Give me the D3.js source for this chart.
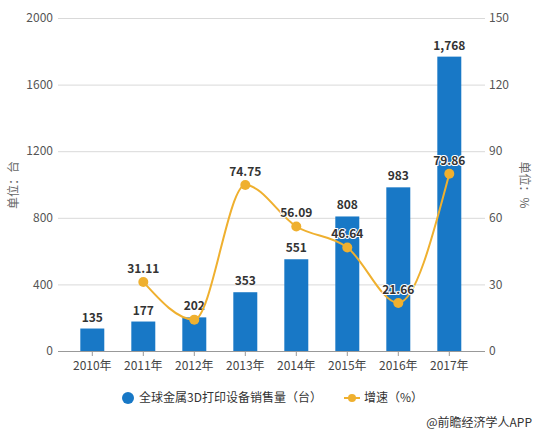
<!DOCTYPE html>
<html><head><meta charset="utf-8">
<script src="https://cdn.jsdelivr.net/npm/d3@7"></script>
<style>body{margin:0;background:#fff}svg{display:block}text{font-family:"Microsoft YaHei","Noto Sans CJK SC","DejaVu Sans",sans-serif}</style>
</head><body><svg id="c" width="537" height="435"></svg>
<script>
const categories = ["2010年","2011年","2012年","2013年","2014年","2015年","2016年","2017年"];
const sales = [135,177,202,353,551,808,983,1768];
const growth = [null,31.11,14.12,74.75,56.09,46.64,21.66,79.86];
const growthLabelShown = [false,true,false,true,true,true,true,true];
const leftTicks = [0,400,800,1200,1600,2000];
const rightTicks = [0,30,60,90,120,150];

const svg = d3.select("#c");
const pLeft = 58, pRight = 485, pTop = 18, pBottom = 351;
const x = d3.scaleBand().domain(categories).range([66.8, 474.8]).paddingInner(0.53).paddingOuter(0.265);
const yL = d3.scaleLinear().domain([0,2000]).range([pBottom, pTop]);
const yR = d3.scaleLinear().domain([0,150]).range([pBottom, pTop]);
const cx = c => x(c) + x.bandwidth()/2;

// grid
svg.append("g").selectAll("line").data(leftTicks.slice(1)).join("line")
  .attr("x1", pLeft).attr("x2", pRight).attr("y1", d=>yL(d)+0.5).attr("y2", d=>yL(d)+0.5)
  .attr("stroke", "#d9d9d9").attr("stroke-width", 1);

// axis tick labels
svg.append("g").selectAll("text").data(leftTicks).join("text")
  .attr("x", 53).attr("y", d=>yL(d)).attr("dy","0.35em").attr("text-anchor","end")
  .attr("font-size", 12).attr("fill", "#555").text(d=>d);
svg.append("g").selectAll("text").data(rightTicks).join("text")
  .attr("x", 489).attr("y", d=>yR(d)).attr("dy","0.35em").attr("text-anchor","start")
  .attr("font-size", 12).attr("fill", "#555").text(d=>d);

// axis titles
svg.append("text").attr("transform","translate(14,185) rotate(-90)").attr("text-anchor","middle")
  .attr("dy","0.35em").attr("font-size",12).attr("fill","#666").text("单位：台");
svg.append("text").attr("transform","translate(524,185) rotate(90)").attr("text-anchor","middle")
  .attr("dy","0.35em").attr("font-size",12).attr("fill","#666").text("单位：%");

// bars
svg.append("g").selectAll("rect").data(sales).join("rect")
  .attr("x", (d,i)=>x(categories[i])).attr("width", x.bandwidth())
  .attr("y", d=>yL(d)).attr("height", d=>pBottom - yL(d)).attr("fill", "#1878c6");

// x axis
svg.append("line").attr("x1", pLeft).attr("x2", pRight).attr("y1", pBottom+0.5).attr("y2", pBottom+0.5)
  .attr("stroke", "#999");
svg.append("g").selectAll("line").data(categories).join("line")
  .attr("x1", d=>cx(d)).attr("x2", d=>cx(d)).attr("y1", pBottom).attr("y2", pBottom+5).attr("stroke","#999");
svg.append("g").selectAll("text").data(categories).join("text")
  .attr("x", d=>cx(d)).attr("y", pBottom+15).attr("dy","0.35em").attr("text-anchor","middle")
  .attr("font-size", 12).attr("fill", "#444").text(d=>d);

// bar labels
const fmt = d3.format(",");
svg.append("g").selectAll("text").data(sales).join("text")
  .attr("x", (d,i)=>cx(categories[i])).attr("y", d=>yL(d)-7)
  .attr("text-anchor","middle").attr("font-size", 12).attr("font-weight","bold")
  .attr("fill","#333").attr("font-family","Arial, 'Liberation Sans', sans-serif").text(d=>fmt(d));

// line
const pts = growth.map((g,i)=>({g,i})).filter(d=>d.g!=null);
const line = d3.line().x(d=>cx(categories[d.i])).y(d=>yR(d.g)).curve(d3.curveMonotoneX);
svg.append("path").datum(pts).attr("d", line).attr("fill","none").attr("stroke","#efb02f").attr("stroke-width",2);
svg.append("g").selectAll("circle").data(pts).join("circle")
  .attr("cx", d=>cx(categories[d.i])).attr("cy", d=>yR(d.g)).attr("r", 5).attr("fill","#efb02f");
svg.append("g").selectAll("text").data(pts.filter(d=>growthLabelShown[d.i])).join("text")
  .attr("x", d=>cx(categories[d.i])).attr("y", d=>yR(d.g)-9)
  .attr("text-anchor","middle").attr("font-size", 12).attr("font-weight","bold")
  .attr("fill","#333").attr("stroke","#fff").attr("stroke-width",2).attr("paint-order","stroke")
  .attr("font-family","Arial, 'Liberation Sans', sans-serif").text(d=>d.g.toFixed(2));

// legend
svg.append("circle").attr("cx", 128).attr("cy", 398).attr("r", 6).attr("fill","#1878c6");
svg.append("text").attr("x", 139).attr("y", 398).attr("dy","0.35em").attr("font-size",12).attr("fill","#333")
  .text("全球金属3D打印设备销售量（台）");
svg.append("line").attr("x1", 344).attr("x2", 360).attr("y1", 398).attr("y2", 398).attr("stroke","#efb02f").attr("stroke-width",2);
svg.append("circle").attr("cx", 352).attr("cy", 398).attr("r", 4).attr("fill","#efb02f");
svg.append("text").attr("x", 364).attr("y", 398).attr("dy","0.35em").attr("font-size",12).attr("fill","#333")
  .text("增速（%）");
svg.append("text").attr("x", 532).attr("y", 423).attr("dy","0.35em").attr("text-anchor","end")
  .attr("font-size",12).attr("fill","#333").text("@前瞻经济学人APP");
</script></body></html>
